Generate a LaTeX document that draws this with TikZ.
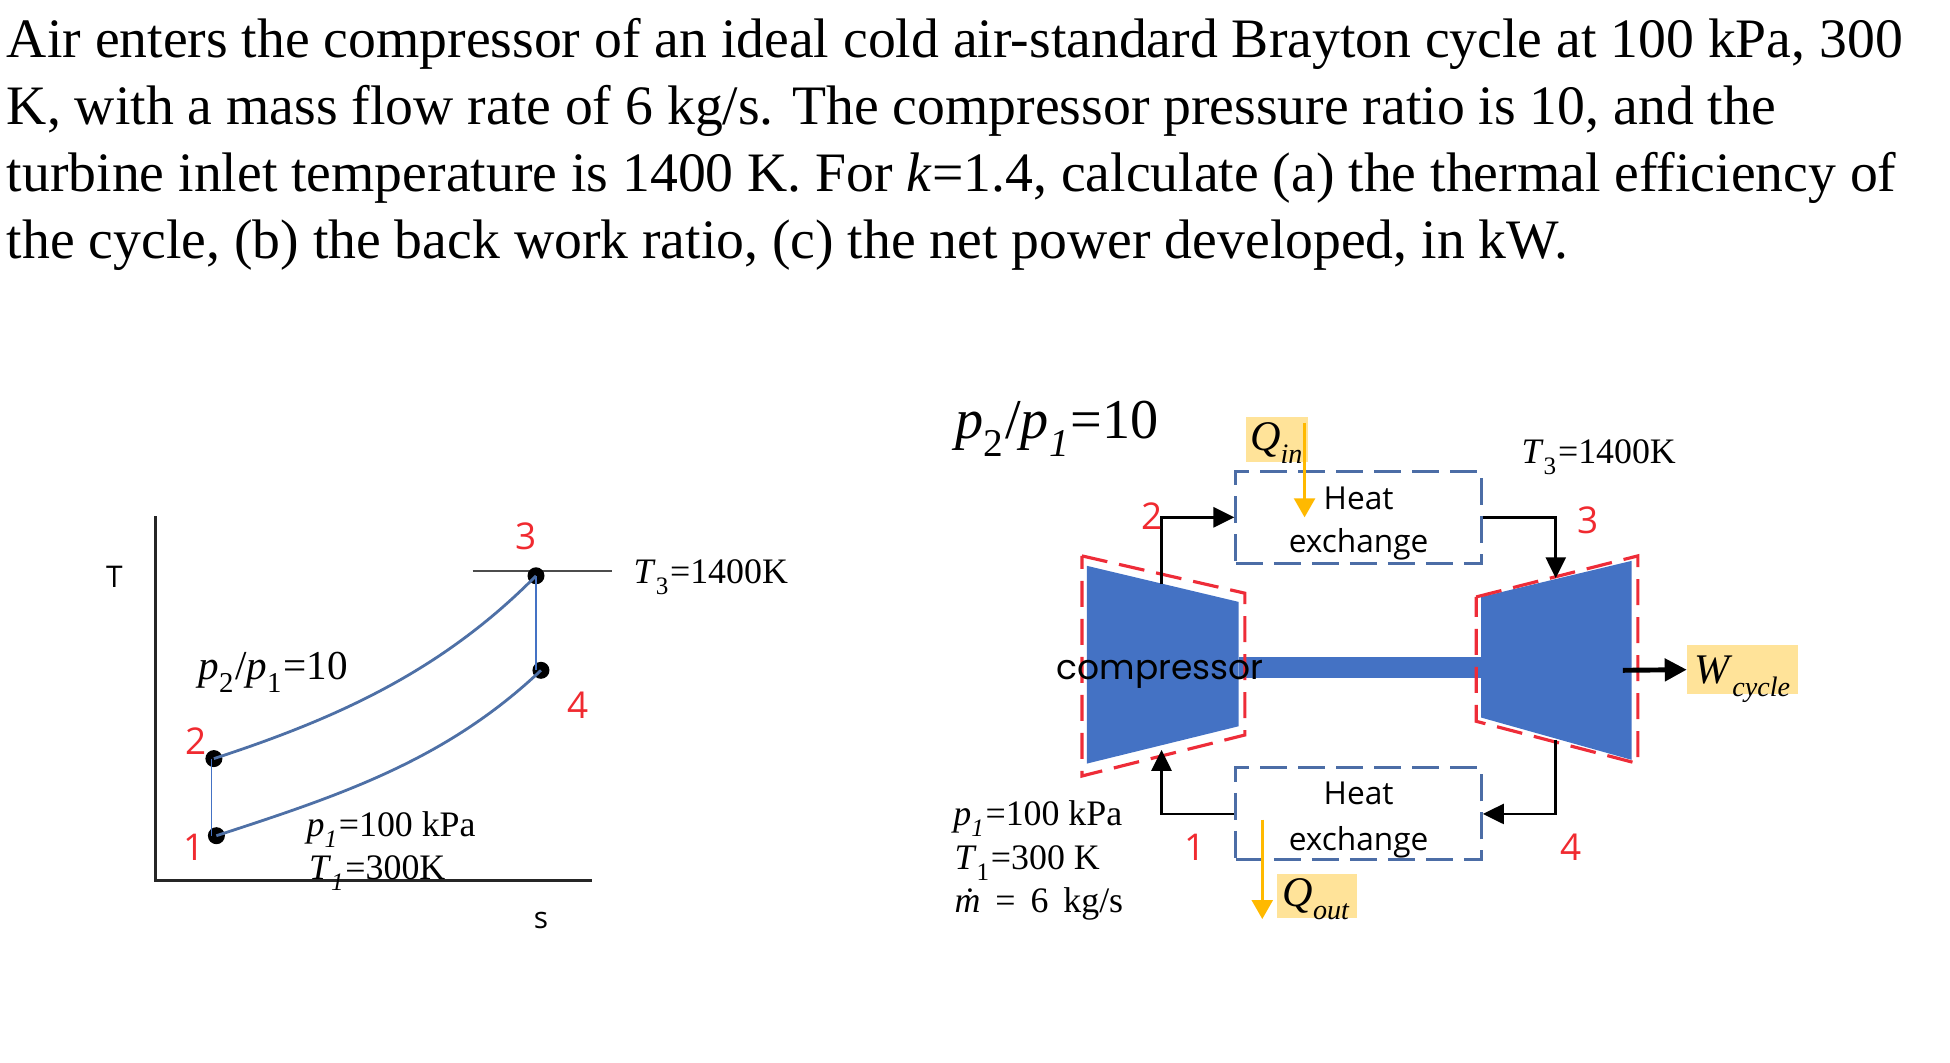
\documentclass[tikz,border=0pt]{standalone}
\usepackage{fontspec}
\setmainfont{Liberation Serif}
\newfontfamily\opensans{Open Sans}
\newfontfamily\poppins{Poppins}
\usetikzlibrary{arrows.meta}
\definecolor{machineblue}{HTML}{4472C4}
\definecolor{boxblue}{HTML}{4C6DA6}
\definecolor{curveblue}{HTML}{4E70A6}
\definecolor{dashred}{HTML}{EE2C38}
\definecolor{numred}{HTML}{F02A30}
\definecolor{tagyellow}{HTML}{FFE399}
\definecolor{heatorange}{HTML}{FFB900}
\newcommand{\vartext}[2]{\textit{#1}\smash{\raisebox{-0.35ex}{\textsubscript{#2}}}}
\newcommand{\varital}[2]{\textit{#1}\smash{\raisebox{-0.35ex}{\textsubscript{\textit{#2}}}}}
\newcommand{\szfont}[1]{\fontsize{#1}{#1}\selectfont}

\begin{document}
\begin{tikzpicture}[x=0.12436mm,y=-0.12436mm]
\tikzstyle{every node}=[inner sep=0pt]
\tikzstyle{numlabel}=[text=numred,font=\opensans\szfont{10.5}]
\tikzstyle{axislabel}=[font=\opensans\szfont{8.5}]
\tikzstyle{serlabel}=[anchor=west,font=\szfont{10.2}]
\tikzstyle{statept}=[circle,fill=black,minimum size=1.7mm]
\tikzstyle{procline}=[draw=curveblue,line width=0.8pt]
\tikzstyle{flowline}=[->,>={Triangle[length=2.1mm,width=2mm]},line width=0.8pt]
\tikzstyle{heatbox}=[draw=boxblue,dash pattern=on 2.7mm off 1.1mm,line width=0.85pt,
  minimum width=24.55mm,minimum height=9.2mm,align=center,font=\opensans\szfont{9}]
\tikzstyle{reddash}=[draw=dashred,dash pattern=on 2.6mm off 1.2mm,line width=0.9pt]
\tikzstyle{machine}=[fill=machineblue]
\tikzstyle{tag}=[fill=tagyellow,font=\szfont{12}]
\tikzstyle{heatflow}=[->,>={Triangle[length=1.9mm,width=2.1mm]},draw=heatorange,line width=0.7pt]

\useasboundingbox (0,0) rectangle (1568,854);

% problem text
\node[anchor=north west,align=left,font=\fontsize{15.84}{19.1}\selectfont] (problem) at (5,14)
 {Air enters the compressor of an ideal cold air-standard Brayton cycle at 100 kPa, 300\\
  K, with a mass flow rate of 6 kg/s. The compressor pressure ratio is 10, and the\\
  turbine inlet temperature is 1400 K. For \textit{k}=1.4, calculate (a) the thermal efficiency of\\
  the cycle, (b) the back work ratio, (c) the net power developed, in kW.};

% T-s diagram
\coordinate (origin) at (125,708);
\coordinate (ytop) at (125,415);
\coordinate (xend) at (476,708);
\coordinate (isoL) at (380,459);
\coordinate (isoR) at (492,459);
\draw[line width=0.6pt,black!85] (ytop) -- (origin) -- (xend);
\draw[line width=0.7pt,black!70] (isoL) -- (isoR);
\node[axislabel] (Tlabel) at (92,464) {T};
\node[axislabel] (slabel) at (435,740) {s};
\node[statept] (pt1) at (174,672) {};
\node[statept] (pt2) at (172,610) {};
\node[statept] (pt3) at (431,463) {};
\node[statept] (pt4) at (435,539) {};
\draw[machineblue,line width=0.5pt] (pt2.center) ++(-2,0) -- ++(0,62);
\draw[machineblue,line width=0.5pt] (pt3.center) -- (pt3.center |- pt4.center);
\draw[procline] (pt2.center) .. controls (270,578) and (355,540) .. (pt3.center);
\draw[procline] (pt1.center) .. controls (272,640) and (358,612) .. (pt4.center);
\node[numlabel] (num1) at (156,681) {1};
\node[numlabel] (num2) at (158,596) {2};
\node[numlabel] (num3) at (423,431) {3};
\node[numlabel] (num4) at (465,567) {4};
\node[serlabel] (T3left) at (509,460) {\vartext{T}{3}=1400K};
\node[serlabel,font=\szfont{11.7}] (ratioleft) at (159,539) {\vartext{p}{2}/\vartext{p}{1}=10};
\node[serlabel] (p1left) at (246,666) {\varital{p}{1}=100 kPa};
\node[serlabel] (T1left) at (248,698) {\varital{T}{1}=300K};

% cycle schematic
\fill[machine] (874,455) -- (996,484) -- (996,584) -- (874,614) -- cycle;
\fill[machine] (1191,480) -- (1312,451) -- (1312,611) -- (1191,577) -- cycle;
\fill[machine] (996,528) rectangle (1191,545);
\draw[reddash] (870,447) -- (1001,477) -- (1001,591) -- (870,624) -- cycle;
\draw[reddash] (1187,480) -- (1317,447) -- (1317,614) -- (1187,580) -- cycle;
\node[heatbox] (heatin) at (1092.5,416) {\rule{0pt}{3.5mm}Heat\\[1.2mm]exchange};
\node[heatbox] (heatout) at (1092.5,654.5) {\rule{0pt}{3.5mm}Heat\\[1.4mm]exchange};
\coordinate (compout) at (934,470);
\coordinate (compin) at (934,603);
\coordinate (turbin) at (1251,465);
\coordinate (turbout) at (1251,595);
\draw[flowline] (compout) |- (heatin.west);
\draw[flowline] (heatin.east) -| (turbin);
\draw[flowline] (turbout) |- (heatout.east);
\draw[flowline] (heatout.west) -| (compin);
\node[font=\poppins\szfont{9.8}] (compname) at (933,542) {compressor};
\node[numlabel] (sch1) at (961,681) {1};
\node[numlabel] (sch2) at (926,415) {2};
\node[numlabel] (sch3) at (1277,418) {3};
\node[numlabel] (sch4) at (1263,681) {4};

\node[serlabel,font=\szfont{16}] (ratioright) at (768,342) {\vartext{p}{2}/\varital{p}{1}=10};
\node[serlabel] (T3right) at (1223,363) {\vartext{T}{3}=1400K};
\node[serlabel] (p1right) at (766,657) {\varital{p}{1}=100 kPa};
\node[serlabel] (T1right) at (767,690) {\vartext{T}{1}=300 K};
\node[serlabel] (mright) at (767,727) {\textit{\.m}\hspace{1.7pt} = \hspace{1.7pt}6\hspace{1.7pt} kg/s};

\node[tag,minimum width=6.2mm,minimum height=4.5mm] (Qin) at (1027,353.5) {\varital{Q}{in}};
\node[tag,minimum width=8mm,minimum height=4.4mm] (Qout) at (1059,720.5) {\varital{Q}{out}};
\node[tag,minimum width=11.1mm,minimum height=4.85mm] (Wcycle) at (1401.5,538.5) {\varital{W}{cycle}};
\coordinate (qinstart) at (1049,340);
\coordinate (qinend) at (1049,416);
\coordinate (qoutstart) at (1015,659);
\coordinate (qoutend) at (1015,739);
\coordinate (wstart) at (1305,539);
\draw[heatflow] (qinstart) -- (qinend);
\draw[heatflow] (qoutstart) -- (qoutend);
\draw[->,>={Triangle[length=2.2mm,width=2.2mm]},line width=1.4pt] (wstart) -- (Wcycle.west);
\end{tikzpicture}
\end{document}
